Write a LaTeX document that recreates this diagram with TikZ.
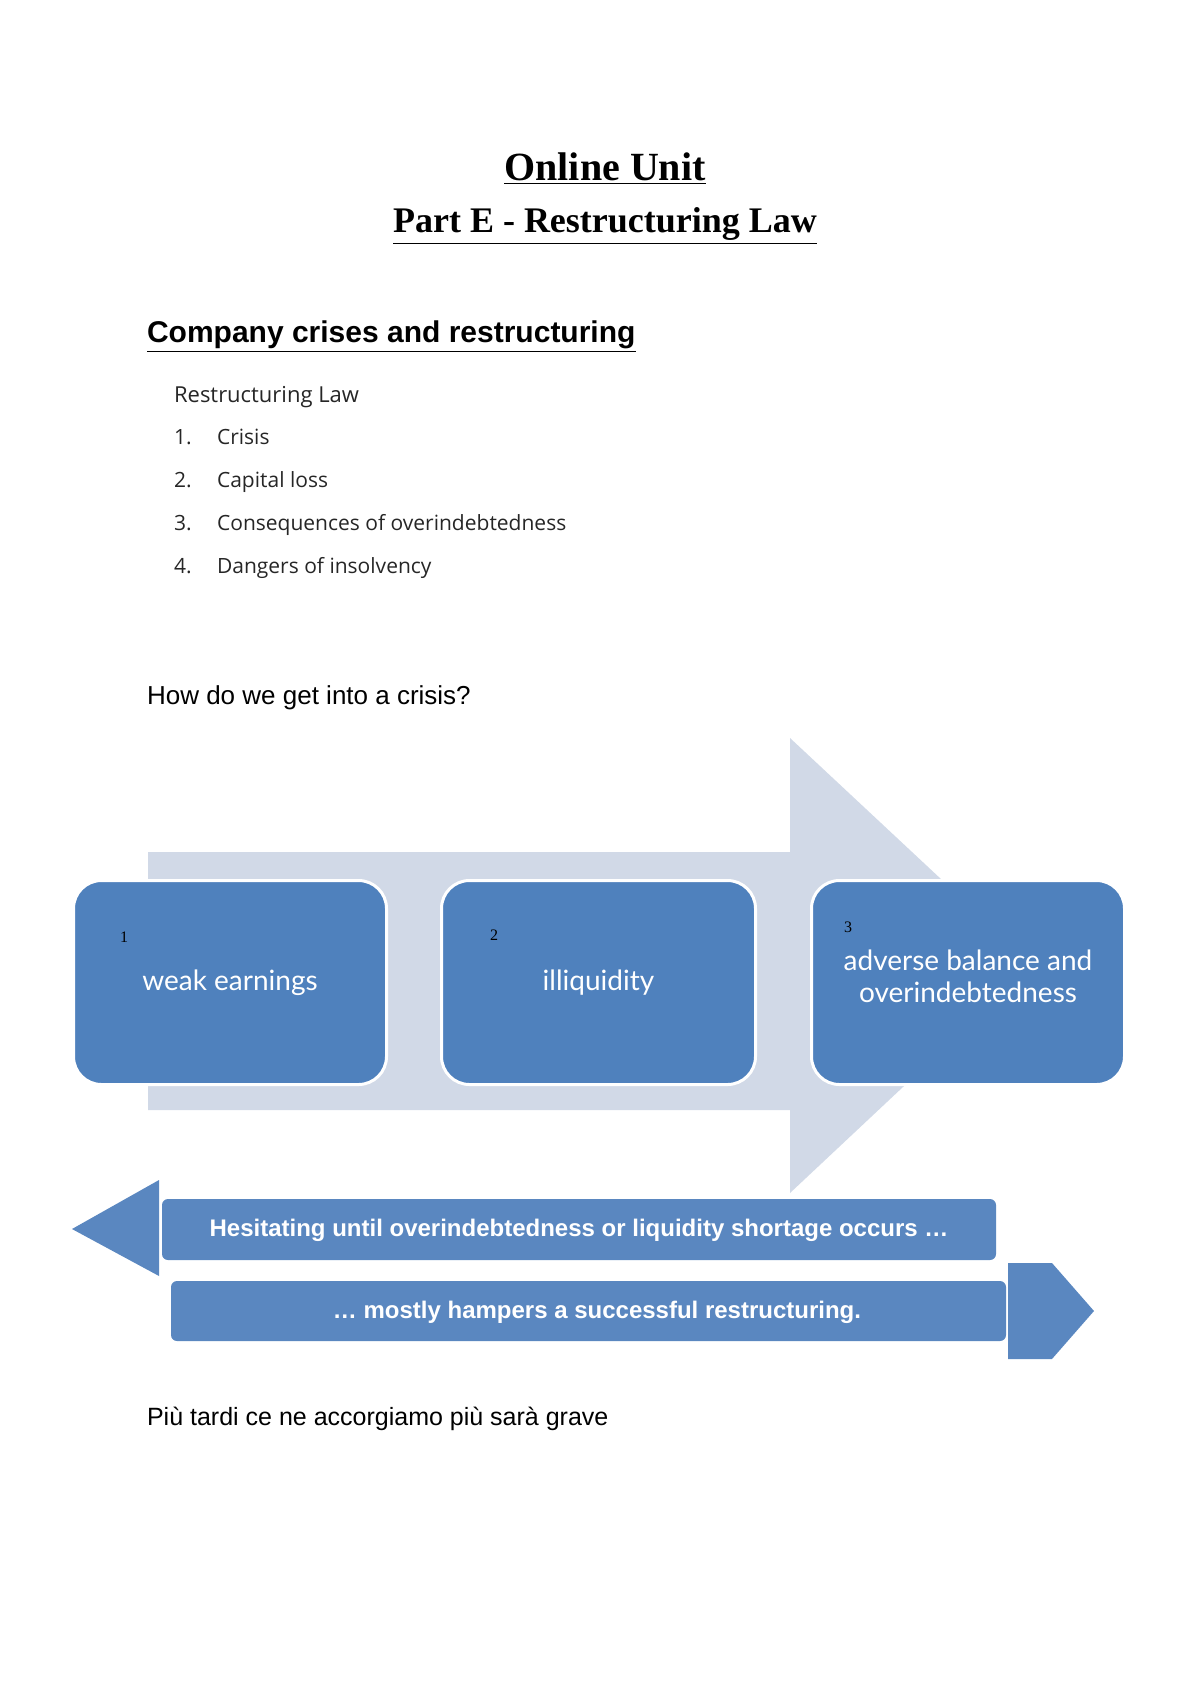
\documentclass[tikz,border=0pt]{standalone}
\usepackage{fontspec}
\setmainfont{Liberation Serif}
\newfontfamily\arial{Liberation Sans}
\newfontfamily\gill{Lato}
\newfontfamily\tah{Open Sans}
\definecolor{boxblue}{HTML}{4F81BD}
\definecolor{barblue}{HTML}{5A87C0}
\definecolor{pale}{HTML}{D1D9E7}
\begin{document}
\begin{tikzpicture}[x=0.5pt,y=-0.5pt,
  stepbox/.style={fill=boxblue,draw=white,line width=1.5pt,rounded corners=14pt},
  bartxt/.style={text=white,font=\arial\bfseries\fontsize{12}{14}\selectfont},
  boxtxt/.style={text=white,font=\gill\fontsize{14}{16}\selectfont,align=center},
  numtxt/.style={font=\fontsize{8}{9}\selectfont},
  item/.style={anchor=base west,font=\tah\fontsize{10.5}{12}\selectfont,text=black!85}]
\useasboundingbox (0,0) rectangle (1200,1698);
\node (t1) at (605,169) {\fontsize{20}{24}\selectfont\bfseries\underline{Online Unit}};
\node (t2) at (605,226) {\fontsize{18}{22}\selectfont\bfseries\underline{Part E - Restructuring Law}};
\node[anchor=west] (h1) at (140,337) {\arial\bfseries\fontsize{15}{18}\selectfont\underline{Company crises and restructuring}};
\node[item,font=\tah\fontsize{11}{13}\selectfont] (rl) at (167,402) {Restructuring Law};
\foreach \n/\t/\y in {1/Crisis/444,2/Capital loss/487,3/Consequences of overindebtedness/530,4/Dangers of insolvency/573}{
  \node[item] (n\n) at (167,\y) {\n.};
  \node[item] (i\n) at (210,\y) {\t};
}
\node[anchor=west] (q) at (140,698) {\arial\fontsize{13}{16}\selectfont How do we get into a crisis?};
% big arrow
\fill[pale] (148,852) -- (790,852) -- (790,738) -- (1033,965) -- (790,1193) -- (790,1110) -- (148,1110) -- cycle;
\node[stepbox,minimum width=313pt*0.5,minimum height=204pt*0.5,anchor=north west] (b1) at (72,879) {};
\node[stepbox,minimum width=314pt*0.5,minimum height=204pt*0.5,anchor=north west] (b2) at (440,879) {};
\node[stepbox,minimum width=313pt*0.5,minimum height=204pt*0.5,anchor=north west] (b3) at (810,879) {};
\node[boxtxt] at (b1.center) {weak earnings};
\node[boxtxt] at (b2.center) {illiquidity};
\node[boxtxt] at ([yshift=3pt]b3.center) {adverse balance and\\overindebtedness};
\node[numtxt] at (124,937) {1};
\node[numtxt] at (494,935) {2};
\node[numtxt] at (848,927) {3};
% left arrow
\fill[barblue] (72,1229) -- (159,1180) -- (159,1276) -- cycle;
\fill[barblue,rounded corners=3pt] (162,1199) rectangle (996,1260);
\node[bartxt] (l) at (579,1230) {Hesitating until overindebtedness or liquidity shortage occurs \dots};
% right arrow
\fill[barblue,rounded corners=3pt] (171,1281) rectangle (1006,1341);
\fill[barblue] (1008,1263) -- (1052,1263) -- (1094,1311) -- (1052,1359) -- (1008,1359) -- cycle;
\node[bartxt] (r) at (597,1312) {\dots{} mostly hampers a successful restructuring.};
\node[anchor=west] (p) at (140,1419) {\arial\fontsize{12.5}{15}\selectfont Più tardi ce ne accorgiamo più sarà grave};
\end{tikzpicture}
\end{document}
